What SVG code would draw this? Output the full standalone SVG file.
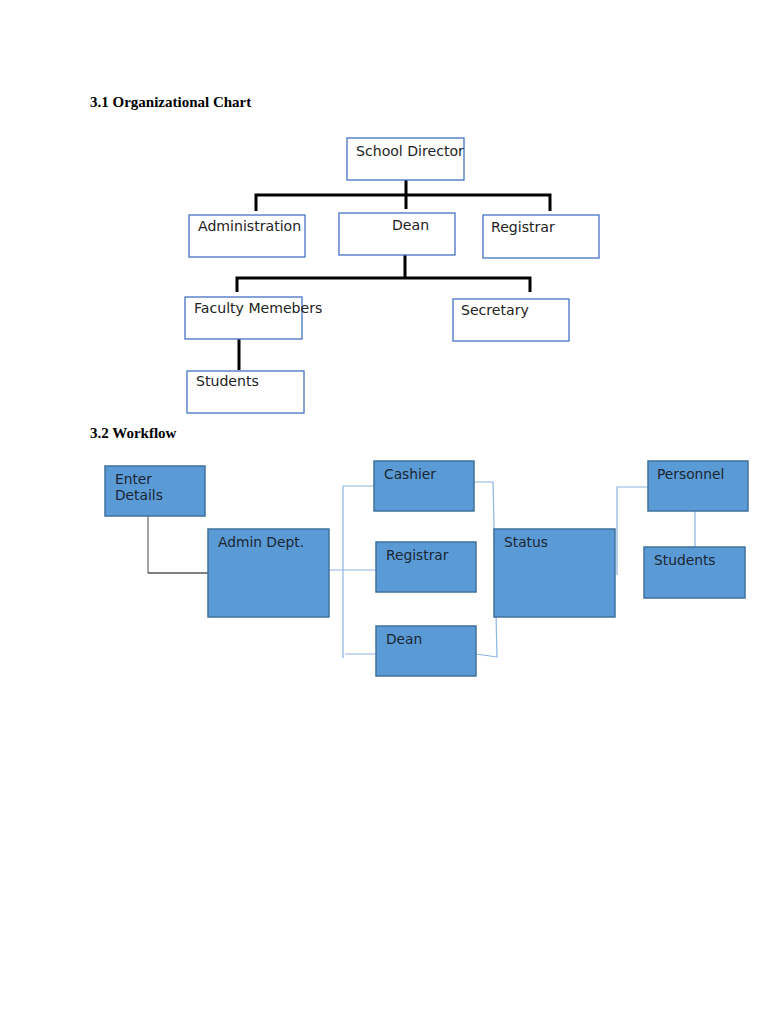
<svg xmlns="http://www.w3.org/2000/svg" width="768" height="1024" viewBox="0 0 768 1024">
<style>
.title{font-family:"Liberation Serif",serif;font-weight:bold;font-size:15px;fill:#000}
.org rect{fill:#fff;stroke:#4472C4;stroke-width:1.3}
.org text{font-family:"DejaVu Sans",sans-serif;font-size:14.1px;fill:#222}
.wf rect{fill:#5B9BD5;stroke:#41719C;stroke-width:1.5}
.wf text{font-family:"DejaVu Sans",sans-serif;font-size:13.8px;fill:#1a2633}
.bk{stroke:#000;stroke-width:3;fill:none}
.lb{stroke:#8DB4E2;stroke-width:1.2;fill:none}
</style>
<rect width="768" height="1024" fill="#fff"/>
<text class="title" x="90" y="107">3.1 Organizational Chart</text>
<text class="title" x="90" y="438">3.2 Workflow</text>

<g id="connectors">
  <path class="bk" d="M406,180 V209 M256,211 V195 H550 V211"/>
  <path class="bk" d="M405,250 V278 M237,292 V278 H530 V292"/>
  <path class="bk" d="M239,339 V370"/>
  <path d="M148,516 V573" stroke="#666" stroke-width="1.2" fill="none"/>
  <path d="M148,573 H208" stroke="#000" stroke-width="1.2" fill="none"/>
  <path class="lb" d="M329,570 H376 M343,486 V658 M343,486 H374 M345,654 H376"/>
  <path class="lb" d="M474,482 H493 L497,657 M476,654 L497,657"/>
  <path class="lb" d="M617,575 V487 H648"/>
  <path class="lb" d="M695,511 V547"/>
</g>

<g class="org">
  <g id="school-director"><rect x="347" y="138" width="117" height="42"/><text x="356" y="156">School Director</text></g>
  <g id="administration"><rect x="189" y="215" width="116" height="42"/><text x="198" y="231">Administration</text></g>
  <g id="dean"><rect x="339" y="213" width="116" height="42"/><text x="392" y="230">Dean</text></g>
  <g id="registrar"><rect x="483" y="215" width="116" height="43"/><text x="491" y="232">Registrar</text></g>
  <g id="faculty-members"><rect x="185" y="297" width="117" height="42"/><text x="194" y="313">Faculty Memebers</text></g>
  <g id="secretary"><rect x="453" y="299" width="116" height="42"/><text x="461" y="315">Secretary</text></g>
  <g id="students-org"><rect x="187" y="371" width="117" height="42"/><text x="196" y="386">Students</text></g>
</g>

<g class="wf">
  <g id="enter-details"><rect x="105" y="466" width="100" height="50"/><text x="115" y="484">Enter</text><text x="115" y="500">Details</text></g>
  <g id="admin-dept"><rect x="208" y="529" width="121" height="88"/><text x="218" y="547">Admin Dept.</text></g>
  <g id="cashier"><rect x="374" y="461" width="100" height="50"/><text x="384" y="479">Cashier</text></g>
  <g id="registrar-wf"><rect x="376" y="542" width="100" height="50"/><text x="386" y="560">Registrar</text></g>
  <g id="dean-wf"><rect x="376" y="626" width="100" height="50"/><text x="386" y="644">Dean</text></g>
  <g id="status"><rect x="494" y="529" width="121" height="88"/><text x="504" y="547">Status</text></g>
  <g id="personnel"><rect x="648" y="461" width="100" height="50"/><text x="657" y="479">Personnel</text></g>
  <g id="students-wf"><rect x="644" y="547" width="101" height="51"/><text x="654" y="565">Students</text></g>
</g>
</svg>
